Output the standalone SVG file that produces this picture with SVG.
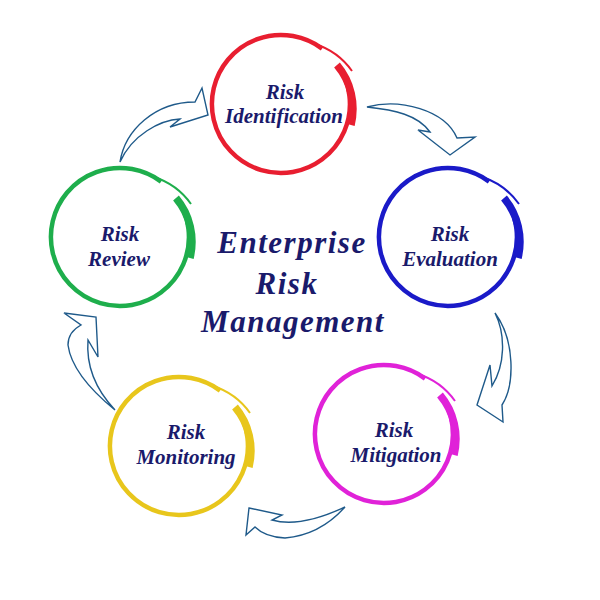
<svg xmlns="http://www.w3.org/2000/svg" xmlns:xlink="http://www.w3.org/1999/xlink" width="600" height="600" viewBox="0 0 600 600">
<style>
.lbl{font-family:"Liberation Serif",serif;font-style:italic;font-weight:bold;font-size:21px;fill:#1a1a6b;text-anchor:middle}
.title{font-family:"Liberation Serif",serif;font-style:italic;font-weight:bold;font-size:31px;fill:#1a1a6b;text-anchor:middle;letter-spacing:1.5px}
.arr{fill:#fff;stroke:#1f5a8a;stroke-width:1.4;stroke-linejoin:miter}
</style>
<defs>
<g id="ring" fill="none" stroke="currentColor">
<path d="M 53.6 -41.9 A 69 69 0 1 1 37.1 -59.4" stroke-width="4.5"/>
<path d="M 52 -43 A 68 68 0 0 1 66 17" stroke-width="7.5"/>
<path d="M 30 -64 A 72 72 0 0 1 67 -37" stroke-width="2"/>
</g>
</defs>
<rect width="600" height="600" fill="#fff"/>
<g id="connectors">
<path class="arr" d="M 120 162 C 125 130 155 102 195 102 L 202 88 L 208 115 L 170 127 L 180 119 C 160 120 132 135 120 162 Z"/>
<path class="arr" d="M 367 107 C 400 98 445 110 457 138 L 475 137 L 450 155 L 418 130 L 430 132 C 418 115 395 110 367 107 Z"/>
<path class="arr" d="M 495 313 C 515 340 515 385 502 405 L 503 422 L 477 405 L 490 365 L 492 386 C 505 365 506 335 495 313 Z"/>
<path class="arr" d="M 249 508 L 282 515 L 272 520 Q 300 528 345 507 Q 320 535 285 538 Q 265 537 255 527 L 246 535 Z"/>
<path class="arr" d="M 64 313 L 96 317 L 98 357 L 88 340 Q 85 378 115 410 Q 72 375 68 345 Q 68 332 81 325 Z"/>
</g>
<g id="node-identification">
<use xlink:href="#ring" href="#ring" transform="translate(285,108)" style="color:#e81e30"/>
<text class="lbl" x="285" y="99">Risk</text>
<text class="lbl" x="284" y="123">Identification</text>
</g>
<g id="node-evaluation">
<use xlink:href="#ring" href="#ring" transform="translate(452,241)" style="color:#1a1ac8"/>
<text class="lbl" x="450" y="241">Risk</text>
<text class="lbl" x="450" y="266">Evaluation</text>
</g>
<g id="node-mitigation">
<use xlink:href="#ring" href="#ring" transform="translate(388,438)" style="color:#e022d8"/>
<text class="lbl" x="394" y="437">Risk</text>
<text class="lbl" x="396" y="462">Mitigation</text>
</g>
<g id="node-monitoring">
<use xlink:href="#ring" href="#ring" transform="translate(183,450)" style="color:#e8c61c"/>
<text class="lbl" x="186" y="439">Risk</text>
<text class="lbl" x="186" y="464">Monitoring</text>
</g>
<g id="node-review">
<use xlink:href="#ring" href="#ring" transform="translate(124,241)" style="color:#1eae4c"/>
<text class="lbl" x="120" y="241">Risk</text>
<text class="lbl" x="119" y="266">Review</text>
</g>
<g id="center">
<text class="title" x="292" y="253">Enterprise</text>
<text class="title" x="287" y="294">Risk</text>
<text class="title" x="293" y="332">Management</text>
</g>
</svg>
